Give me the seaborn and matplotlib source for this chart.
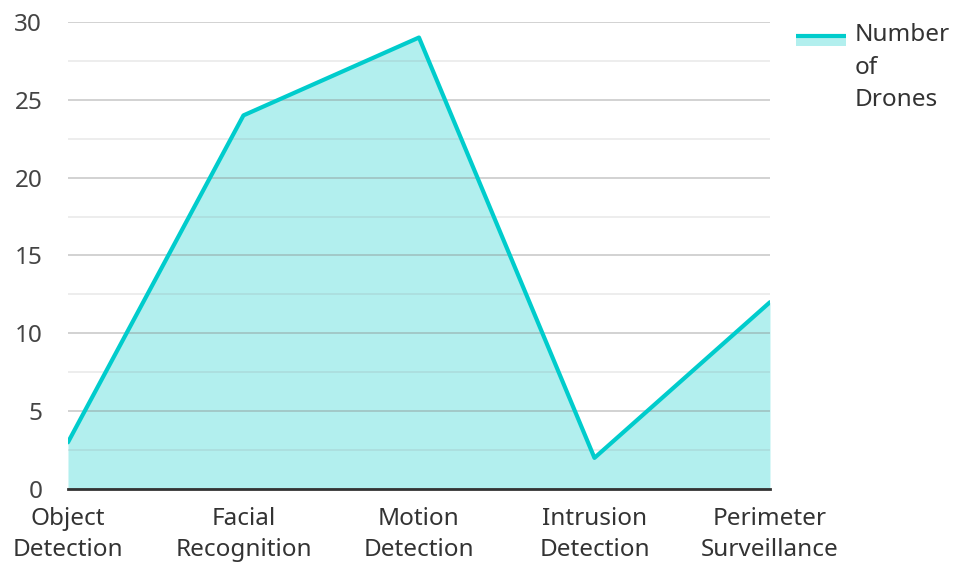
import numpy as np
import pandas as pd
import matplotlib
matplotlib.use("Agg")
import matplotlib.pyplot as plt
from matplotlib.lines import Line2D
from matplotlib.patches import Rectangle
from matplotlib.legend_handler import HandlerBase
from matplotlib.ticker import MultipleLocator
import seaborn as sns

# 数据
categories = ["Object\nDetection", "Facial\nRecognition", "Motion\nDetection",
              "Intrusion\nDetection", "Perimeter\nSurveillance"]
drones = [3, 24, 29, 2, 12]

df = pd.DataFrame({"category": categories, "drones": drones})
df["pos"] = np.arange(len(df))

sns.set_theme(style="white")
plt.rcParams["font.family"] = ["Noto Sans", "DejaVu Sans"]

line_color = "#00cccc"
fill_color = "#b2efee"


# 图例：上方一条线，下面是填充色块
class AreaHandler(HandlerBase):
    def __init__(self, shift=0, **kw):
        super().__init__(**kw)
        self.shift = shift

    def create_artists(self, legend, orig_handle, xdescent, ydescent,
                       width, height, fontsize, trans):
        y0 = height * 0.1 + self.shift
        h = height * 0.55
        rect = Rectangle((-xdescent, y0), width, h, facecolor=fill_color,
                         edgecolor="none", transform=trans)
        line = Line2D([-xdescent, -xdescent + width], [y0 + h, y0 + h],
                      color=line_color, lw=3, solid_capstyle="butt",
                      transform=trans)
        return [rect, line]


fig = plt.figure(figsize=(9.56, 5.63), dpi=100)
ax = fig.add_axes([0.0711, 0.1314, 0.7343, 0.8296])

# 面积填充
ax.fill_between(df["pos"], df["drones"], 0, color=fill_color, lw=0, zorder=1)
sns.lineplot(data=df, x="pos", y="drones", color=line_color, lw=3,
             sort=False, ax=ax, zorder=3)

# 网格线
ax.yaxis.set_major_locator(MultipleLocator(5))
ax.yaxis.set_minor_locator(MultipleLocator(2.5))
ax.grid(axis="y", which="major", color="#8a8a8a", alpha=0.45, lw=1.2, zorder=2)
ax.grid(axis="y", which="minor", color="#8a8a8a", alpha=0.18, lw=1.2, zorder=2)
ax.set_axisbelow(False)

ax.set_xlim(0, len(df) - 1)
ax.set_ylim(0, 30)
ax.set_xticks(df["pos"])
ax.set_xticklabels(df["category"], fontsize=17.5, color="#333333", linespacing=1.38)
ax.tick_params(axis="y", labelsize=17.5, labelcolor="#444444", length=0, pad=18.5)
ax.tick_params(axis="x", length=0, pad=13)
ax.tick_params(which="minor", length=0)
ax.set_xlabel("")
ax.set_ylabel("")

for side in ["top", "right", "left"]:
    ax.spines[side].set_visible(False)
ax.spines["bottom"].set_color("#333333")
ax.spines["bottom"].set_linewidth(2)
ax.spines["bottom"].set_zorder(4)

# 图例
leg = ax.legend([object()], ["Number\nof\nDrones"], loc="upper left",
                bbox_to_anchor=(1.0065, 1.044), frameon=False, fontsize=17.5,
                handlelength=2.06, handleheight=0.8, handletextpad=0.33,
                handler_map={object: AreaHandler(shift=20.5)})
for t in leg.get_texts():
    t.set_color("#333333")
    t.set_linespacing(1.46)

fig.savefig("out.png", dpi=100)
